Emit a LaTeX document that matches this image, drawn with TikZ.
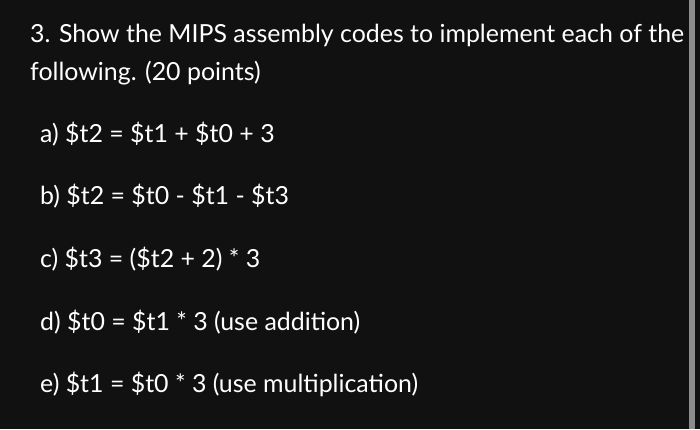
\documentclass[tikz,border=0pt]{standalone}
\usepackage{fontspec}
\setmainfont{Lato}
\begin{document}
\begin{tikzpicture}[x=1bp,y=-1bp,
  txt/.style={anchor=base west,inner sep=0pt,text=white,font=\fontsize{25}{30}\selectfont}]
\fill[fill={rgb,255:red,17;green,17;blue,17}] (0,0) rectangle (700,429);
\fill[fill={rgb,255:red,140;green,140;blue,140}] (689,0) rectangle (695,429);
\node[txt] (t1) at (30,42) {3. Show the MIPS assembly codes to implement each of the};
\node[txt] (t2) at (30,80) {following. (20 points)};
\node[txt] (a) at (40,142) {a) \$t2 = \$t1 + \$t0 + 3};
\node[txt] (b) at (40,204) {b) \$t2 = \$t0 - \$t1 - \$t3};
\node[txt] (c) at (40,267) {c) \$t3 = (\$t2 + 2) * 3};
\node[txt] (d) at (40,330) {d) \$t0 = \$t1 * 3 (use addition)};
\node[txt] (e) at (40,392) {e) \$t1 = \$t0 * 3 (use multiplication)};
\end{tikzpicture}
\end{document}
